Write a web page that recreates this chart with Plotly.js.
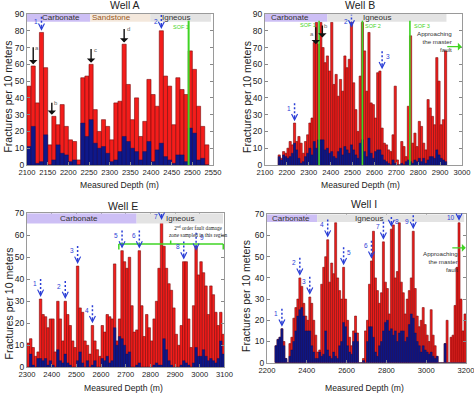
<!DOCTYPE html>
<html>
<head>
<meta charset="utf-8">
<script src="https://cdn.plot.ly/plotly-3.0.1.min.js"></script>
<style>
html,body{margin:0;padding:0;background:#fff;}
#chart{width:474px;height:393px;}
</style>
</head>
<body>
<div id="chart"></div>
<script>
// ================= DATA =================
const binWidth = 10; // metres per bin ("Fractures per 10 meters")

// ---- Well A ----
const wellA_firstBin = 2100;
const wellA_total = [47,59,37,79,58,12,29,24,36,23,15,14,3,52,53,60,33,20,27,23,15,37,38,72,48,27,40,17,26,51,42,35,80,53,47,24,52,45,42,68,57,35,23,12];
const wellA_blue  = [11,23,1,2,18,0,3,12,7,6,2,3,0,25,17,27,13,10,11,7,2,3,8,17,14,10,8,3,8,14,2,9,13,5,3,1,6,6,2,22,19,3,4,0];

// ---- Well B ----
const wellB_firstBin = 2160;
const wellB_total = [6,4,8,7,10,14,12,25,14,17,13,7,14,18,25,28,73,85,72,85,70,61,65,56,85,48,54,41,51,44,65,58,63,85,49,33,20,53,85,68,44,79,37,36,28,55,56,22,13,12,9,8,18,47,3,0,14,11,5,35,77,13,19,11,26,23,13,9,39,34,29,24,64,50,24,27,68];
const wellB_blue  = [5,3,6,5,4,5,7,13,9,4,1,2,5,7,10,6,14,10,15,15,15,9,10,7,8,5,4,8,10,6,11,9,7,12,9,6,4,13,15,8,5,16,7,4,8,9,9,6,3,2,1,0,3,1,0,0,1,0,2,3,2,1,3,2,4,2,4,1,3,5,5,4,9,6,4,3,2];

// ---- Well E ----
const wellE_firstBin = 2300;
const wellE_total = [11,13,9,5,7,31,24,23,18,22,22,7,30,22,12,30,24,19,12,9,46,27,25,12,10,6,19,12,8,5,19,16,24,23,22,47,12,22,53,48,45,50,28,16,17,53,28,14,24,18,12,22,30,45,66,55,45,38,35,27,15,10,19,48,48,22,9,28,55,42,48,43,37,24,37,33,25,19,25,15];
const wellE_blue  = [0,6,1,0,4,4,3,4,1,3,1,0,8,3,2,6,2,1,0,0,3,7,2,0,3,0,1,3,0,0,4,3,5,2,3,18,10,14,13,10,6,7,0,0,1,2,0,0,0,0,0,1,2,1,1,13,8,3,1,0,0,0,1,3,2,1,0,2,9,5,5,8,5,3,4,3,2,4,12,6];

// ---- Well I ----
const wellI_firstBin = 2240;
const wellI_total = [8,11,12,16,10,2,0,9,12,21,26,30,40,36,28,22,20,31,28,20,13,5,6,37,45,50,58,38,47,42,66,40,34,30,45,30,20,12,8,15,22,14,0,0,2,15,20,37,48,62,40,34,28,33,57,38,35,23,63,65,40,43,66,38,33,23,30,34,40,62,35,22,17,20,26,18,13,10,25,13,8,3,0,0,0,9,20,0,12,13,27,45,66,30,15,23];
const wellI_blue  = [8,11,12,16,8,2,0,3,6,10,15,22,25,26,22,15,15,15,8,5,2,2,5,3,4,15,6,3,2,5,3,2,8,10,19,17,8,5,4,10,14,10,0,0,1,0,10,17,17,12,5,3,8,10,15,19,20,15,16,13,15,10,14,15,15,10,12,18,23,21,14,10,8,5,8,6,5,4,5,3,2,3,0,0,0,9,0,0,0,0,0,0,0,0,0,0];

// ---- axis ticks ----
const wellA_xTicks = [2100,2150,2200,2250,2300,2350,2400,2450,2500,2550];
const wellB_xTicks = [2100,2200,2300,2400,2500,2600,2700,2800,2900,3000];
const wellE_xTicks = [2300,2400,2500,2600,2700,2800,2900,3000,3100];
const wellI_xTicks = [2200,2400,2600,2800,3000,3200];
const yTicks90 = [0,10,20,30,40,50,60,70,80,90];
const yTicks70 = [0,10,20,30,40,50,60,70];

// ---- lithology bands: [label, from, to, labelDepth] ----
const wellA_litho = [["Carbonate",2100,2253,2182],["Sandstone",2253,2398,2305],["Igneous",2398,2545,2460]];
const wellB_litho = [["Carbonate",2100,2385,2214],["Igneous",2385,2929,2611]];
const wellE_litho = [["Carbonate",2300,2744,2511],["Igneous",2744,3094,2920]];
const wellI_litho = [["Carbonate",2200,2452,2321],["Igneous",2452,3191,2713]];

// ---- blue numbered peak markers: [label, depth, value, labelSide] ----
const wellA_markers = [["1",2135,80,"l"],["2",2425,81,"l"]];
const wellB_markers = [["1",2235,26,"l"],["2",2495,82,"l"],["3",2635,57,"r"]];
const wellE_markers = [["1",2355,32,"l"],["2",2455,31,"l"],["3",2505,47,"l"],["4",2565,20,"l"],["5",2685,54,"l"],["6",2755,54,"l"],["7",2845,67,"l"],["8",2935,49,"l"],["9",2985,53,"r"]];
const wellI_markers = [["1",2275,17,"l"],["2",2365,41,"l"],["3",2415,32,"l"],["4",2505,59,"l"],["5",2585,46,"r"],["6",2725,49,"l"],["7",2785,58,"l"],["8",2825,64,"r"],["9",2935,63,"l"],["10",3165,67,"l"]];

// ---- black lettered arrows: [label, depth, tipValue, tailValue, labelSide] ----
const wellA_arrows = [["a",2115,60,71,"r"],["b",2160,30,38,"r"],["c",2255,61,70,"r"],["d",2335,73,82,"r"]];
const wellB_arrows = [["a",2332,72,83,"l"],["b",2362,76,84,"r"]];

// ---- SOF lines: [label, depth, top, labelDepth, labelValue] ----
const wellA_sof = [["SOF 1",2491,86,2472,82]];
const wellB_sof = [["SOF 1",2347,86,2298,83.5],["SOF 2",2545,86,2594,83],["SOF 3",2762,86,2815,83]];

// ================= STYLE =================
const RED = '#f41d1b', RED_EDGE = '#7a0b0b';
const BLUE = '#0f188a', BLUE_EDGE = '#0a0f55';
const GREEN = '#3fd424';
const MARK = '#2a3ed6';
const SANS = "'Liberation Sans',Arial,sans-serif";
const BAND = {Carbonate:'#cdbff5', Sandstone:'#f4e8dc', Igneous:'#e3e3e3'};

const traces = [], shapes = [], annotations = [];

function binCenters(first, vals){ return vals.map((_, i) => first + binWidth*(i+0.5)); }

function addPanel(cfg){
  const xr = 'x'+cfg.n, yr = 'y'+cfg.n;
  const xs = binCenters(cfg.first, cfg.total);
  traces.push({type:'bar', x:xs, y:cfg.total, width:binWidth, xaxis:xr, yaxis:yr,
    marker:{color:RED, line:{color:RED_EDGE, width:0.6}}, hoverinfo:'skip', showlegend:false});
  traces.push({type:'bar', x:xs, y:cfg.blue, width:binWidth, xaxis:xr, yaxis:yr,
    marker:{color:BLUE, line:{color:BLUE_EDGE, width:0.4}}, hoverinfo:'skip', showlegend:false});
  cfg.litho.forEach(([lab, a, b, lx]) => {
    shapes.push({type:'rect', xref:xr, yref:yr, x0:a, x1:b, y0:cfg.bandLo, y1:cfg.bandHi,
      fillcolor:BAND[lab], line:{width:0}, layer:'above'});
    annotations.push({xref:xr, yref:yr, x:lx, y:(cfg.bandLo+cfg.bandHi)/2, xanchor:'center', yanchor:'middle', text:lab, showarrow:false,
      font:{family:SANS, size:8, color: lab==='Sandstone' ? '#9a5a1f' : '#333'}});
  });
  (cfg.sof||[]).forEach(([lab, d, top, lx, ly]) => {
    shapes.push({type:'line', xref:xr, yref:yr, x0:d, x1:d, y0:0, y1:top, line:{color:GREEN, width:cfg.sofW||1.6}, layer:'above'});
    annotations.push({xref:xr, yref:yr, x:lx, y:ly, xanchor:'center', yanchor:'middle', text:lab, showarrow:false, font:{family:SANS, size:5.5, color:GREEN}});
  });
  (cfg.markers||[]).forEach(([lab, d, v, side]) => {
    // pixel room between the marked bar and the lithology band / frame top
    const roomBand = (cfg.bandLo - v) * cfg.ppu;
    const roomTop = (cfg.bandHi - v) * cfg.ppu;
    const labShift = Math.max(3, Math.min(13, roomBand));
    const dashTop = Math.max(7, Math.min(labShift + 7, roomTop));
    shapes.push({type:'line', xref:xr, yref:yr, x0:d, x1:d, ysizemode:'pixel', yanchor:v, y0:4, y1:dashTop,
      line:{color:MARK, width:1.5, dash:'2px,2px'}, layer:'above'});
    annotations.push({xref:xr, yref:yr, x:d, y:v, ax:0, ay:-6, text:'', showarrow:true, arrowhead:5, arrowsize:0.9, arrowwidth:1.3, arrowcolor:MARK});
    annotations.push({xref:xr, yref:yr, x:d, y:v, xanchor:'center', yanchor:'middle', text:lab, showarrow:false,
      xshift: side==='l' ? -4 - 1.8*lab.length : 4 + 1.8*lab.length, yshift:labShift,
      font:{family:SANS, size:6.5, color:MARK}});
  });
  (cfg.arrows||[]).forEach(([lab, d, tip, tail, side]) => {
    annotations.push({xref:xr, yref:yr, x:d, y:tip, axref:xr, ayref:yr, ax:d, ay:tail, text:'', showarrow:true,
      arrowhead:1, arrowsize:1, arrowwidth:1.4, arrowcolor:'#111'});
    annotations.push({xref:xr, yref:yr, x:d, y:tail, xanchor:'center', yanchor:'middle', text:lab, showarrow:false,
      xshift: side==='l' ? -4 : 4, yshift: side==='l' ? -8 : -2,
      font:{family:SANS, size:6, color:'#666'}});
  });
}

addPanel({n:'', first:wellA_firstBin, total:wellA_total, blue:wellA_blue, litho:wellA_litho, bandLo:85.4, bandHi:90, ppu:1.682,
  sof:wellA_sof, sofW:2, markers:wellA_markers, arrows:wellA_arrows});
addPanel({n:'2', first:wellB_firstBin, total:wellB_total, blue:wellB_blue, litho:wellB_litho, bandLo:85.4, bandHi:90, ppu:1.682,
  sof:wellB_sof, markers:wellB_markers, arrows:wellB_arrows});
addPanel({n:'3', first:wellE_firstBin, total:wellE_total, blue:wellE_blue, litho:wellE_litho, bandLo:65.3, bandHi:70, ppu:2.2,
  markers:wellE_markers});
addPanel({n:'4', first:wellI_firstBin, total:wellI_total, blue:wellI_blue, litho:wellI_litho, bandLo:66.4, bandHi:70, ppu:2.12,
  markers:wellI_markers});

// Well E fault damage zone bracket
const wellE_bracket = {from:2672, to:3095, level:56, endDrop:53.5, mid:2882, midRise:57.6};
[[wellE_bracket.from, wellE_bracket.level, wellE_bracket.to, wellE_bracket.level],
 [wellE_bracket.from, wellE_bracket.endDrop, wellE_bracket.from, wellE_bracket.level],
 [wellE_bracket.to, wellE_bracket.endDrop, wellE_bracket.to, wellE_bracket.level],
 [wellE_bracket.mid, wellE_bracket.level, wellE_bracket.mid, wellE_bracket.midRise]].forEach(([x0,y0,x1,y1]) => {
  shapes.push({type:'line', xref:'x3', yref:'y3', x0, y0, x1, y1, line:{color:GREEN, width:1.5}, layer:'above'});
});
annotations.push({xref:'x3', yref:'y3', x:2995, y:61.8, xanchor:'center', yanchor:'middle', text:'2<sup>nd</sup> order fault damage<br>zone sampled in this region',
  showarrow:false, font:{family:"'Liberation Serif','Times New Roman',serif", size:5.3, color:'#222'}});

// "Approaching the master fault" notes with green arrows
annotations.push({xref:'x2', yref:'y2', x:2962, y:73.5, xanchor:'right', yanchor:'middle', align:'right', text:'Approaching<br>the master<br>fault',
  showarrow:false, font:{family:SANS, size:6.2, color:'#333'}});
annotations.push({xref:'x2', yref:'y2', x:2999, y:70.5, ax:-16, ay:0, text:'', showarrow:true,
  arrowhead:1, arrowsize:1, arrowwidth:1.3, arrowcolor:GREEN});
annotations.push({xref:'x4', yref:'y4', x:3172, y:47.7, xanchor:'right', yanchor:'middle', align:'right', text:'Approaching<br>the master<br>fault',
  showarrow:false, font:{family:SANS, size:6.2, color:'#333'}});
annotations.push({xref:'x4', yref:'y4', x:3199, y:54.2, ax:-15, ay:0, text:'', showarrow:true,
  arrowhead:1, arrowsize:1, arrowwidth:1.3, arrowcolor:GREEN});

// Panel titles and axis titles (paper coordinates)
const panelText = [
  ['Well A', 0.264, 0.987, 0.253, 0.529, 0.018, 0.753],
  ['Well B', 0.760, 0.987, 0.760, 0.529, 0.521, 0.753],
  ['Well E', 0.260, 0.476, 0.260, 0.0127, 0.020, 0.229],
  ['Well I', 0.768, 0.481, 0.768, 0.0127, 0.519, 0.247]
];
panelText.forEach(([t, tx, ty, mx, my, fx, fy]) => {
  annotations.push({xref:'paper', yref:'paper', x:tx, y:ty, xanchor:'center', yanchor:'middle', text:t, showarrow:false, font:{family:SANS, size:10.5, color:'#222'}});
  annotations.push({xref:'paper', yref:'paper', x:mx, y:my, xanchor:'center', yanchor:'middle', text:'Measured Depth (m)', showarrow:false, font:{family:SANS, size:8.6, color:'#222'}});
  annotations.push({xref:'paper', yref:'paper', x:fx, y:fy, xanchor:'center', yanchor:'middle', text:'Fractures per 10 meters', textangle:-90, showarrow:false, font:{family:SANS, size:10.5, color:'#222'}});
});

function axisBase(domain, range, ticks, anchor, fs){
  return {domain, range, tickvals:ticks, ticktext:ticks.map(String), anchor, showline:true, mirror:'ticks', linecolor:'#9a9a9a', linewidth:1,
    ticks:'inside', ticklen:3, tickcolor:'#888', showgrid:false, zeroline:false, ticklabeloverflow:'allow',
    tickfont:{family:SANS, size:fs, color:'#222'}, fixedrange:true};
}

const layout = {
  width:474, height:393, margin:{l:0,r:0,t:0,b:0}, paper_bgcolor:'#fff', plot_bgcolor:'#fff',
  barmode:'overlay', bargap:0, showlegend:false,
  xaxis:  axisBase([0.0570,0.4494],[2100,2550],wellA_xTicks,'y',7.6),
  yaxis:  axisBase([0.5802,0.9644],[0,90],yTicks90,'x',8.5),
  xaxis2: axisBase([0.5591,0.9747],[2100,3000],wellB_xTicks,'y2',7.6),
  yaxis2: axisBase([0.5802,0.9644],[0,90],yTicks90,'x2',8.5),
  xaxis3: axisBase([0.0570,0.4736],[2300,3100],wellE_xTicks,'y3',7.6),
  yaxis3: axisBase([0.0654,0.4573],[0,70],yTicks70,'x3',8.5),
  xaxis4: axisBase([0.5633,0.9831],[2200,3200],wellI_xTicks,'y4',7.6),
  yaxis4: axisBase([0.0771,0.4547],[0,70],yTicks70,'x4',8.5),
  shapes, annotations
};

Plotly.newPlot('chart', traces, layout, {displayModeBar:false, staticPlot:true});
</script>
</body>
</html>
